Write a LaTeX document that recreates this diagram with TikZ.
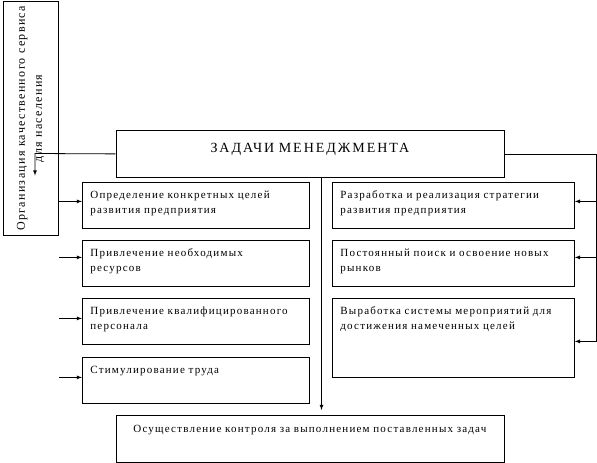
\documentclass[tikz,border=0pt]{standalone}
\usepackage{fontspec}
\setmainfont{Liberation Serif}
\usetikzlibrary{arrows}

\newcommand\boxfont{\fontsize{11}{15.5}\selectfont\addfontfeature{LetterSpace=11}}
\newcommand\sidefont{\fontsize{12}{17}\selectfont\addfontfeature{LetterSpace=11}}
\newcommand\headfont{\fontsize{14}{16}\selectfont\addfontfeature{LetterSpace=14}}

\begin{document}
\begin{tikzpicture}[x=1pt,y=-1pt,>=latex]

	\tikzstyle task=[draw, line width=.8pt, anchor=north west, inner xsep=8pt, inner ysep=0pt, align=left, font=\boxfont, text height=16pt, text depth=30pt];
	\tikzstyle left task=[task, text width=211pt];
	\tikzstyle right task=[task, text width=226pt];
	\tikzstyle head=[draw, line width=.8pt, anchor=north west, inner sep=0pt, text width=388pt, align=center];
	\tikzstyle link=[line width=.8pt];

	\useasboundingbox (0,0) rectangle (597,463);

	\node[draw, line width=.8pt, anchor=north west, minimum width=55.5pt, minimum height=234pt, inner sep=0pt, font=\sidefont] (org) at (2.5,1) {\rotatebox{90}{\parbox{228pt}{\centering Организация качественного сервиса\\ для населения}}};

	\node[head, font=\headfont, text height=22pt, text depth=25pt] (tasks) at (115.5,130) {ЗАДАЧИ МЕНЕДЖМЕНТА};

	\node[left task] (goals) at (82,182) {Определение конкретных целей\\ развития предприятия};
	\node[left task] (resources) at (82,240) {Привлечение необходимых\\ ресурсов};
	\node[left task] (staff) at (82,298) {Привлечение квалифицированного\\ персонала};
	\node[left task] (labour) at (82,357) {Стимулирование труда};

	\node[right task] (strategy) at (332,182) {Разработка и реализация стратегии\\ развития предприятия};
	\node[right task] (markets) at (332,240) {Постоянный поиск и освоение новых\\ рынков};
	\node[right task, text depth=63pt] (measures) at (332,298) {Выработка системы мероприятий для\\ достижения намеченных целей};

	\node[head, font=\boxfont, text height=17pt, text depth=30pt] (control) at (115.5,415) {Осуществление контроля за выполнением поставленных задач};

	\coordinate (turn) at (35,153.5);
	\coordinate (spine) at (321.5,0);
	\coordinate (rail) at (596,0);

	% left side
	\draw[link,->] (tasks.west) -- (turn) -- ++(0,22);
	\draw[link,->] ([yshift=4pt]goals.west -| org.east) -- ([yshift=4pt]goals.west);
	\foreach \t/\s in {resources/6pt, staff/3pt, labour/3pt}
		\draw[link,->] ([yshift=\s]\t.west -| org.east) -- ([yshift=\s]\t.west);

	% right side
	\draw[link,->] (tasks.east) -| ([yshift=-3.5pt]measures.east -| rail) -- ([yshift=-3.5pt]measures.east);
	\foreach \t/\s in {strategy/4pt, markets/6pt}
		\draw[link,->] ([yshift=\s]\t.east -| rail) -- ([yshift=\s]\t.east);

	% down to control
	\draw[link,->,shorten >=5pt] (tasks.south -| spine) -- (control.north -| spine);

\end{tikzpicture}
\end{document}
